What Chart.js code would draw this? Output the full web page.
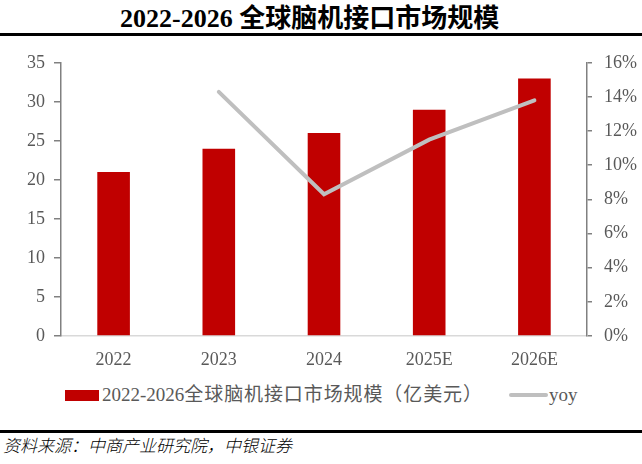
<!DOCTYPE html>
<html><head><meta charset="utf-8">
<script src="https://cdn.jsdelivr.net/npm/chart.js@4.4.0/dist/chart.umd.min.js"></script>
<style>
html,body{margin:0;padding:0;background:#fff;}
#wrap{position:relative;width:642px;height:464px;overflow:hidden;background:#fff;}
#title{position:absolute;left:120px;top:4px;font-weight:bold;font-size:26px;font-family:"Liberation Serif","Noto Sans CJK SC";white-space:nowrap;line-height:30px;color:#000;}
#title .cjk{letter-spacing:0px;}
#tline{position:absolute;left:0;top:33px;width:642px;height:3px;background:#000;}
#cv{position:absolute;left:0;top:40px;}
.lg{position:absolute;top:384px;font-size:19px;line-height:22px;font-family:"Liberation Serif","Noto Sans CJK SC";color:#595959;white-space:nowrap;}
.lg .cjk{letter-spacing:0.9px;}
#lbox{position:absolute;left:65px;top:390px;width:34px;height:11px;background:#C00000;}
#lline{position:absolute;left:509px;top:393px;width:39px;height:4px;background:#BFBFBF;border-radius:2px;}
#bline{position:absolute;left:0;top:430px;width:642px;height:3px;background:#000;}
#src{position:absolute;left:3px;top:436px;font-style:italic;font-weight:300;font-size:17px;line-height:18px;font-family:"Noto Sans CJK SC";color:#000;white-space:nowrap;}
</style>
</head>
<body>
<div id="wrap">
  <div id="title">2022-2026 <span class="cjk">全球脑机接口市场规模</span></div>
  <div id="tline"></div>
  <canvas id="cv" width="642" height="340" style="width:642px;height:340px;"></canvas>
  <div id="lbox"></div>
  <div class="lg" id="ltext1" style="left:102px;">2022-2026<span class="cjk">全球脑机接口市场规模（亿美元）</span></div>
  <div id="lline"></div>
  <div class="lg" id="ltext2" style="left:549px;">yoy</div>
  <div id="bline"></div>
  <div id="src">资料来源：中商产业研究院，中银证券</div>
</div>
<script>
const categories = ['2022', '2023', '2024', '2025E', '2026E'];
const marketSize = [21, 24, 26, 29, 33];          // 亿美元
const yoyGrowth = [null, 14.3, 8.3, 11.5, 13.8];  // %
const seriesNames = ['2022-2026全球脑机接口市场规模（亿美元）', 'yoy'];

const tickFont = {family: '"Liberation Serif", "Noto Sans CJK SC"', size: 18};
const axisGray = '#808080';

new Chart(document.getElementById('cv'), {
  data: {
    labels: categories,
    datasets: [
      {
        type: 'line',
        label: seriesNames[1],
        data: yoyGrowth,
        yAxisID: 'y1',
        borderColor: '#BFBFBF',
        backgroundColor: '#BFBFBF',
        borderWidth: 4,
        pointRadius: 0,
        tension: 0,
        borderCapStyle: 'round',
        borderJoinStyle: 'miter',
        spanGaps: false,
        order: 0
      },
      {
        type: 'bar',
        label: seriesNames[0],
        data: marketSize,
        yAxisID: 'y',
        backgroundColor: '#C00000',
        borderWidth: 0,
        barPercentage: 0.31,
        categoryPercentage: 1.0,
        order: 1
      }
    ]
  },
  options: {
    responsive: false,
    animation: false,
    layout: {padding: {top: 22, left: 0, right: 0, bottom: 0}},
    plugins: {legend: {display: false}, tooltip: {enabled: false}, title: {display: false}},
    scales: {
      x: {
        grid: {display: false},
        border: {display: true, color: '#D9D9D9', width: 1.5},
        ticks: {font: tickFont, color: '#595959', padding: 5, maxRotation: 0},
        afterFit: (s) => { s.height = 44; }
      },
      y: {
        position: 'left',
        min: 0, max: 35,
        ticks: {stepSize: 5, font: tickFont, color: '#595959', padding: 9},
        grid: {drawOnChartArea: false, drawTicks: true, tickLength: 7, color: axisGray, lineWidth: 1.5},
        border: {display: true, color: axisGray, width: 1.5},
        afterFit: (s) => { s.width = 61; }
      },
      y1: {
        position: 'right',
        min: 0, max: 16,
        ticks: {stepSize: 2, font: tickFont, color: '#595959', padding: 12, callback: (v) => v + '%'},
        grid: {drawOnChartArea: false, drawTicks: true, tickLength: 5, color: axisGray, lineWidth: 1.5},
        border: {display: true, color: axisGray, width: 1.5},
        afterFit: (s) => { s.width = 55; }
      }
    }
  }
});
</script>
</body></html>
